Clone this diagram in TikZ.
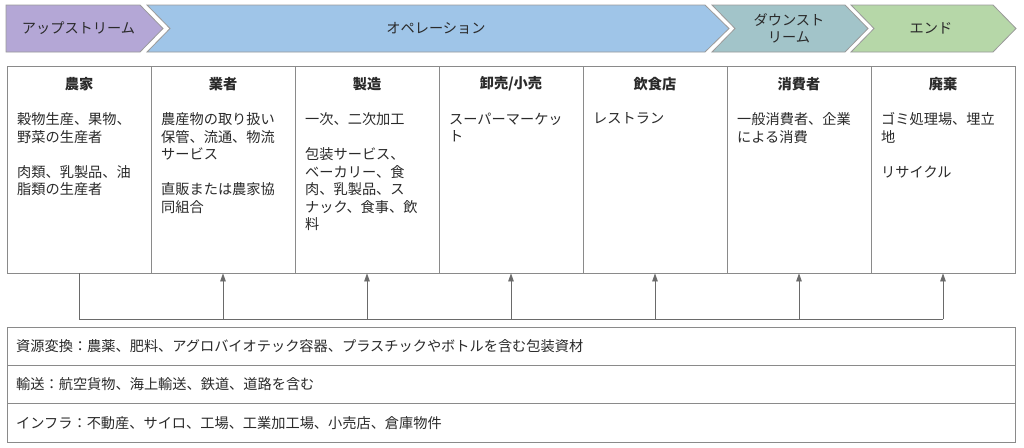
\documentclass[tikz,border=0pt]{standalone}
\usepackage{fontspec}
\setmainfont{Noto Sans CJK JP}
\usetikzlibrary{arrows.meta}
\definecolor{upc}{HTML}{B4A7D6}
\definecolor{opc}{HTML}{9FC5E8}
\definecolor{dnc}{HTML}{A2C4C9}
\definecolor{enc}{HTML}{B6D7A8}
\definecolor{chevline}{HTML}{9A9A9A}
\definecolor{boxline}{HTML}{8A8A8A}
\definecolor{connc}{HTML}{6A6A6A}
\definecolor{txt}{HTML}{2A2A2A}
\begin{document}
\begin{tikzpicture}[x=1pt,y=-1pt,
  chev/.style={draw=chevline, line width=0.8pt},
  lab/.style={font=\fontsize{14.2}{17.5}\selectfont, text=txt, inner sep=0pt, align=center},
  col/.style={draw=boxline, line width=0.8pt, minimum width=144pt, minimum height=207pt, inner sep=0pt},
  ttl/.style={font=\bfseries\fontsize{14.2}{17.5}\selectfont, text=txt, inner sep=0pt},
  body/.style={font=\fontsize{14.2}{17.5}\selectfont, text=txt, inner sep=0pt, align=left, anchor=north west},
  rowbox/.style={draw=boxline, line width=0.8pt, minimum width=1008pt, minimum height=38.33pt, inner sep=0pt},
  rowtxt/.style={font=\fontsize{14.2}{17.5}\selectfont, text=txt, inner sep=0pt, anchor=west},
  conn/.style={draw=connc, line width=0.8pt},
  arr/.style={conn, -{Triangle[length=8pt,width=5.5pt]}}
]
\useasboundingbox[fill=white] (0,0) rectangle (1024,447);

% chevrons
\path[chev, fill=upc] (6,5) -- (140,5) -- (163,28.5) -- (140,52) -- (6,52) -- cycle;
\path[chev, fill=opc] (147,5) -- (705,5) -- (729,28.5) -- (705,52) -- (147,52) -- (170,28.5) -- cycle;
\path[chev, fill=dnc] (712,5) -- (845,5) -- (868,28.5) -- (845,52) -- (712,52) -- (735,28.5) -- cycle;
\path[chev, fill=enc] (851,5) -- (993,5) -- (1016,28.5) -- (993,52) -- (851,52) -- (874,28.5) -- cycle;
\node[lab] (up) at (78.5,28.5) {アップストリーム};
\node[lab] (op) at (436,28.5) {オペレーション};
\node[lab] (dn) at (789,28.5) {ダウンスト\\リーム};
\node[lab] (en) at (931,28.5) {エンド};

% columns
\foreach \i in {1,...,7} {
  \node[col] (c\i) at ({79+144*(\i-1)},169.5) {};
}
\node[ttl] (t1) at (79,84) {農家};
\node[ttl] (t2) at (223,84) {業者};
\node[ttl] (t3) at (367,84) {製造};
\node[ttl] (t4) at (511,84) {卸売/小売};
\node[ttl] (t5) at (655,84) {飲食店};
\node[ttl] (t6) at (799,84) {消費者};
\node[ttl] (t7) at (943,84) {廃棄};

\node[body] (b1) at (17,112.5) {穀物生産、果物、\\野菜の生産者\\[17.5pt]肉類、乳製品、油\\脂類の生産者};
\node[body] (b2) at (161,112.5) {農産物の取り扱い\\保管、流通、物流\\サービス\\[17.5pt]直販または農家協\\同組合};
\node[body] (b3) at (305,112.5) {一次、二次加工\\[17.5pt]包装サービス、\\ベーカリー、食\\肉、乳製品、ス\\ナック、食事、飲\\料};
\node[body] (b4) at (449,112.5) {スーパーマーケッ\\ト};
\node[body] (b5) at (593,112.5) {レストラン};
\node[body] (b6) at (737,112.5) {一般消費者、企業\\による消費};
\node[body] (b7) at (881,112.5) {ゴミ処理場、埋立\\地\\[17.5pt]リサイクル};

% connectors
\foreach \i in {1,...,7} {
  \coordinate (k\i) at ({79+144*(\i-1)},319);
}
\draw[conn] (c1.south) -- (k1) -- (k7);
\foreach \i in {2,...,7} {
  \draw[arr] (k\i) -- (c\i.south);
}

% bottom rows
\node[rowbox] (r1) at (511,346.17) {};
\node[rowbox] (r2) at (511,384.5) {};
\node[rowbox] (r3) at (511,422.83) {};
\node[rowtxt] (s1) at (16,346.17) {資源変換：農薬、肥料、アグロバイオテック容器、プラスチックやボトルを含む包装資材};
\node[rowtxt] (s2) at (16,384.5) {輸送：航空貨物、海上輸送、鉄道、道路を含む};
\node[rowtxt] (s3) at (16,422.83) {インフラ：不動産、サイロ、工場、工業加工場、小売店、倉庫物件};
\end{tikzpicture}
\end{document}
